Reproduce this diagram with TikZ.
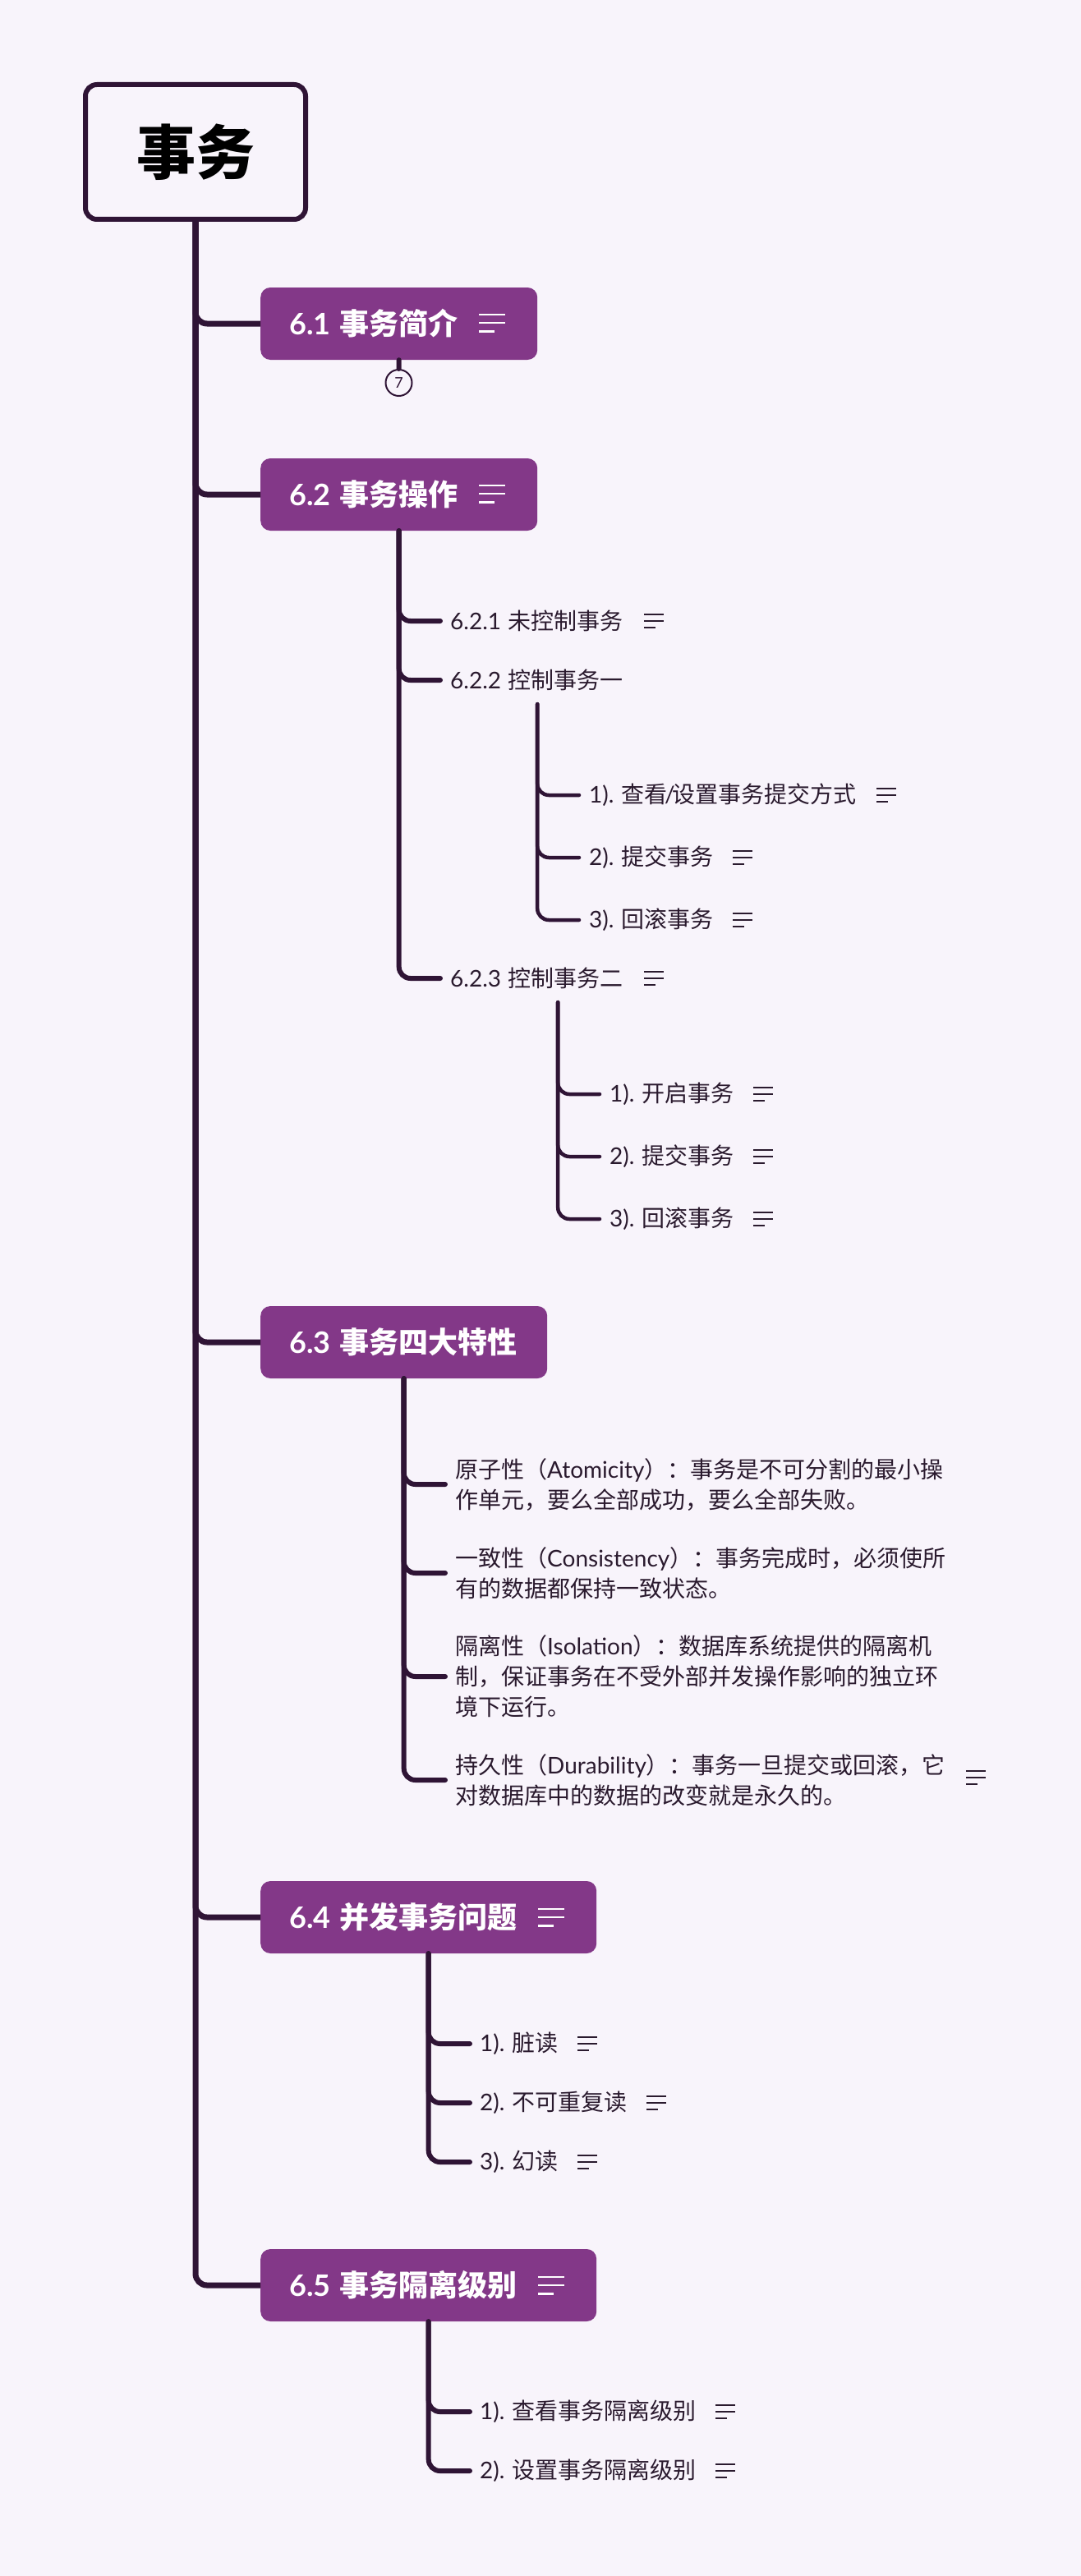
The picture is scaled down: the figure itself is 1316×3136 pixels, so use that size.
\documentclass[tikz,border=0pt]{standalone}
\usepackage{fontspec}
\setmainfont{Lato}
\newfontfamily\cjk{Noto Sans CJK SC}
\newcommand{\zh}[1]{{\cjk #1}}
\newcommand{\gap}{\hspace{.31em}}
\usepackage{tikz}
\usetikzlibrary{positioning,calc}
\definecolor{pagebg}{HTML}{F8F4FB}
\definecolor{topicfill}{HTML}{833888}
\definecolor{linedark}{HTML}{2F1435}
\definecolor{leaftext}{HTML}{2A1A2E}
\tikzset{
  topic/.style={anchor=west,fill=topicfill,text=white,rounded corners=12pt,inner xsep=35pt,inner ysep=0pt,
    minimum height=88pt,text width=#1,align=left,font=\fontsize{36}{44}\selectfont\bfseries},
  leaf/.style={anchor=west,inner xsep=12pt,inner ysep=0pt,minimum height=58pt,text width=#1,align=left,
    text=leaftext,font=\fontsize{28}{37}\selectfont},
  trunk/.style={draw=linedark,line width=7pt,rounded corners=14pt},
  limb/.style={draw=linedark,line width=6pt,rounded corners=14pt,line cap=round},
  twig/.style={draw=linedark,line width=4.5pt,rounded corners=14pt,line cap=round},
  notes/.pic={
    \draw[line width=2.2pt,pic actions] (-12,-8) -- (12,-8) (-12,0) -- (12,0) (-12,8) -- (2,8);
  }
}
\begin{document}
\begin{tikzpicture}[x=1pt,y=-1pt]
\useasboundingbox[fill=pagebg] (0,0) rectangle (1316,3136);
\node[draw=linedark,line width=6pt,rounded corners=14pt,minimum width=268pt,minimum height=164pt,inner sep=0pt,
  text=black,font=\fontsize{72}{80}\selectfont\bfseries] (root) at (238,185) {\raisebox{3pt}{\zh{事务}}};
% topics
\node[topic=267pt] (t61) at (317,394) {6.1\gap\zh{事务简介}};
\node[topic=267pt] (t62) at (317,602) {6.2\gap\zh{事务操作}};
\node[topic=279pt] (t63) at (317,1634) {6.3\gap\zh{事务四大特性}};
\node[topic=339pt] (t64) at (317,2334) {6.4\gap\zh{并发事务问题}};
\node[topic=339pt] (t65) at (317,2782) {6.5\gap\zh{事务隔离级别}};
\node[draw=linedark,line width=2pt,circle,minimum size=32pt,inner sep=0pt,text=linedark,
  font=\fontsize{18}{20}\selectfont] (more) at (485.5,466) {7};
% 6.2
\node[leaf=300pt] (a1) at (536,756) {6.2.1\gap\zh{未控制事务}};
\node[leaf=212pt] (a2) at (536,828) {6.2.2\gap\zh{控制事务一}};
\node[leaf=262pt] (a3) at (536,1191) {6.2.3\gap\zh{控制事务二}};
\node[leaf=400pt] (b1) at (705,968) {1).\gap\zh{查看}\hspace{-3pt}/\hspace{-3pt}\zh{设置事务提交方式}};
\node[leaf=300pt] (b2) at (705,1044) {2).\gap\zh{提交事务}};
\node[leaf=300pt] (b3) at (705,1120) {3).\gap\zh{回滚事务}};
\node[leaf=300pt] (c1) at (730,1332) {1).\gap\zh{开启事务}};
\node[leaf=300pt] (c2) at (730,1408) {2).\gap\zh{提交事务}};
\node[leaf=300pt] (c3) at (730,1484) {3).\gap\zh{回滚事务}};
% 6.3
\node[leaf=640pt] (d1) at (542,1807) {\zh{原子性（}Atomicity\zh{）：事务是不可分割的最小操}\\\zh{作单元，要么全部成功，要么全部失败。}};
\node[leaf=640pt] (d2) at (542,1915) {\zh{一致性（}Consistency\zh{）：事务完成时，必须使所}\\\zh{有的数据都保持一致状态。}};
\node[leaf=640pt] (d3) at (542,2041) {\zh{隔离性（}Isolation\zh{）：数据库系统提供的隔离机}\\\zh{制，保证事务在不受外部并发操作影响的独立环}\\\zh{境下运行。}};
\node[leaf=640pt] (d4) at (542,2167) {\zh{持久性（}Durability\zh{）：事务一旦提交或回滚，它}\\\zh{对数据库中的数据的改变就是永久的。}};
% 6.4
\node[leaf=300pt] (e1) at (572,2488) {1).\gap\zh{脏读}};
\node[leaf=300pt] (e2) at (572,2560) {2).\gap\zh{不可重复读}};
\node[leaf=300pt] (e3) at (572,2632) {3).\gap\zh{幻读}};
% 6.5
\node[leaf=400pt] (f1) at (572,2936) {1).\gap\zh{查看事务隔离级别}};
\node[leaf=400pt] (f2) at (572,3008) {2).\gap\zh{设置事务隔离级别}};
% connectors
\foreach \to in {t61,t62,t63,t64,t65}
  \draw[trunk] (root.south) |- (\to.west);
\draw[limb] (t61.south) -- (more.north);
\foreach \to in {a1,a2,a3}
  \draw[limb] (t62.south) |- (\to.west);
\foreach \to in {b1,b2,b3}
  \draw[twig] (a2.south) |- (\to.west);
\foreach \to in {c1,c2,c3}
  \draw[twig] (a3.south) |- (\to.west);
\foreach \to in {d1,d2,d3,d4}
  \draw[limb] (t63.south) |- (\to.west);
\foreach \to in {e1,e2,e3}
  \draw[limb] (t64.south) |- (\to.west);
\foreach \to in {f1,f2}
  \draw[limb] (t65.south) |- (\to.west);
% note marks
\foreach \x/\y in {599/393,599/601,671/2334,671/2782}
  \pic[draw=white,scale=1.3] at (\x,\y) {notes};
\foreach \x/\y in {796/756,796/1191,1079/968,904/1044,904/1120,929/1332,929/1408,929/1484,
  1188/2164,715/2488,799/2560,715/2632,883/2936,883/3008}
  \pic[draw=leaftext] at (\x,\y) {notes};
\end{tikzpicture}
\end{document}
